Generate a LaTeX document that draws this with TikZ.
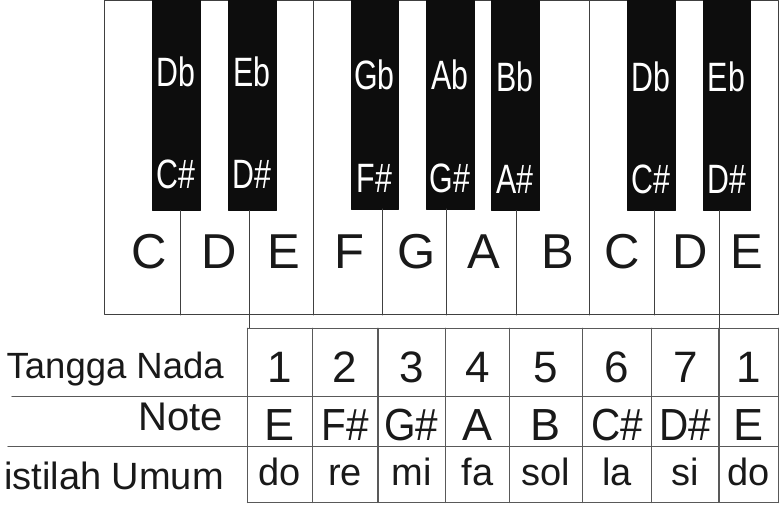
\documentclass[tikz,border=0pt]{standalone}
\usepackage{fontspec}
\setmainfont{Liberation Sans}
\newfontfamily\blackkeyfont[FakeStretch=0.74]{Liberation Sans}
\newfontfamily\sharpfont[FakeStretch=0.9]{Liberation Sans}

\begin{document}
\begin{tikzpicture}[line cap=round,line join=round,x=1pt,y=-1pt,
		keyline/.style={line width=1pt,color=black!75},
		gridline/.style={line width=1.2pt,color=black!65},
		blackkey/.style={fill=black!95,draw=black!95},
		whitelabel/.style={anchor=base,inner sep=0pt,text=black!90,font=\fontsize{49}{49}\selectfont},
		flatlabel/.style={anchor=base,inner sep=0pt,text=white,font=\blackkeyfont\fontsize{41}{41}\selectfont},
		rowlabel/.style={anchor=base east,inner sep=0pt,text=black!90},
		celltext/.style={anchor=base,inner sep=0pt,text=black!90}]
		\useasboundingbox (0,0) rectangle (780,505);
		% keyboard
		\draw [keyline] (104,0.5) rectangle (778.5,315);
		\fill[blackkey] (152.3,0) rectangle (200,210.5);
		\fill[blackkey] (228.3,0) rectangle (275.7,210.5);
		\fill[blackkey] (350.7,0) rectangle (398.3,209);
		\fill[blackkey] (426,0) rectangle (474,209);
		\fill[blackkey] (491,0) rectangle (538.7,210.5);
		\fill[blackkey] (627,0) rectangle (674.7,210.5);
		\fill[blackkey] (702.7,0) rectangle (750.3,210.5);
		\draw [keyline] (313.3,0)-- (313.3,315);
		\draw [keyline] (589,0)-- (589,315);
		\draw [keyline] (180.7,210.5)-- (180.7,315);
		\draw [keyline] (382.7,209)-- (382.7,315);
		\draw [keyline] (446,209)-- (446,315);
		\draw [keyline] (516.7,210.5)-- (516.7,315);
		\draw [keyline] (654.3,210.5)-- (654.3,315);
		\draw [keyline] (249.3,210.5)-- (249.3,328.3);
		\draw [keyline] (719.3,210.5)-- (719.3,343);
		% table
		\draw [gridline] (247.5,328.3)-- (778.5,328.3);
		\draw [gridline] (12,396.7)-- (778.5,396.7);
		\draw [gridline] (8,446.7)-- (778.5,446.7);
		\draw [gridline] (247.5,502.5)-- (778.5,502.5);
		\foreach \cx in {247.5,312.5,378,445.5,509.5,582.5,651.5,719,778.5}
			\draw [gridline] (\cx,328.3)-- (\cx,502.5);
		% white keys
		\node[whitelabel] (wC) at (149,268.3) {C};
		\node[whitelabel] (wD) at (219,268.3) {D};
		\node[whitelabel] (wE) at (283.5,268.3) {E};
		\node[whitelabel] (wF) at (349,268.3) {F};
		\node[whitelabel] (wG) at (416.5,268.3) {G};
		\node[whitelabel] (wA) at (484,268.3) {A};
		\node[whitelabel] (wB) at (557.5,268.3) {B};
		\node[whitelabel] (wCc) at (622.5,268.3) {C};
		\node[whitelabel] (wDd) at (690,268.3) {D};
		\node[whitelabel] (wEe) at (746.5,268.3) {E};
		% black keys
		\node[flatlabel] (fDb) at (176.2,87) {Db};
		\node[flatlabel] (fEb) at (252,87) {Eb};
		\node[flatlabel] (fGb) at (374.5,90) {Gb};
		\node[flatlabel] (fAb) at (450,90) {Ab};
		\node[flatlabel] (fBb) at (514.8,91.5) {Bb};
		\node[flatlabel] (fDbb) at (650.8,91.5) {Db};
		\node[flatlabel] (fEbb) at (726.5,91.5) {Eb};
		\node[flatlabel] (sCs) at (176.2,188.5) {C\#};
		\node[flatlabel] (sDs) at (252,188.5) {D\#};
		\node[flatlabel] (sFs) at (374.5,192.5) {F\#};
		\node[flatlabel] (sGs) at (450,192.5) {G\#};
		\node[flatlabel] (sAs) at (514.8,193.3) {A\#};
		\node[flatlabel] (sCss) at (650.8,193.3) {C\#};
		\node[flatlabel] (sDss) at (726.5,193.3) {D\#};
		% rows
		\node[rowlabel,font=\fontsize{36.5}{36.5}\selectfont] (tangga) at (224,378) {Tangga Nada};
		\node[rowlabel,font=\fontsize{40}{40}\selectfont] (note) at (223,431) {Note};
		\node[rowlabel,font=\fontsize{38}{38}\selectfont] (istilah) at (224,489) {istilah Umum};
		\foreach \cx/\num/\nt/\sol [count=\i] in {280/1/E/do,345/2/{\sharpfont F\#}/re,411.5/3/{\sharpfont G\#}/mi,477.5/4/A/fa,546/5/B/sol,617/6/{\sharpfont C\#}/la,685.5/7/{\sharpfont D\#}/si,749/1/E/do}{
			\node[celltext,font=\fontsize{44}{44}\selectfont] (num\i) at (\cx,382.5) {\num};
			\node[celltext,font=\fontsize{45}{45}\selectfont] (nt\i) at (\cx,440) {\nt};
			\node[celltext,font=\fontsize{38}{38}\selectfont] (sol\i) at (\cx,485) {\sol};
		}
	\end{tikzpicture}
\end{document}
